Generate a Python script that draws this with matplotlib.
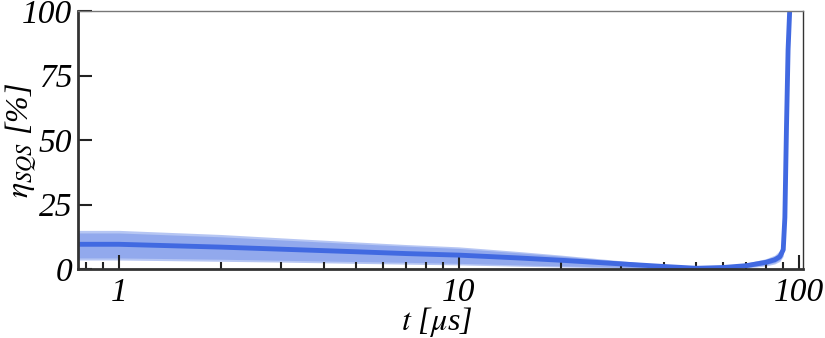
import numpy as np
import matplotlib
matplotlib.use("Agg")
import matplotlib.pyplot as plt
from matplotlib.ticker import LogLocator, FixedLocator, NullFormatter

# data (t in microseconds, eta in %)
t = [0.75, 1.0, 2.0, 3.0, 5.0, 7.0, 10.0, 15.0, 20.0, 30.0, 40.0, 50.0,
     60.0, 70.0, 80.0, 85.0, 88.0, 90.0, 91.0, 92.0, 93.0, 94.0]
eta_mean = [9.6, 9.6, 8.5, 7.7, 6.7, 6.0, 5.4, 4.3, 3.4, 2.0, 1.0, 0.3,
            0.6, 1.3, 2.6, 3.6, 4.8, 7.5, 20.0, 55.0, 85.0, 100.0]
hi_outer = [15.0, 15.0, 13.4, 12.1, 10.5, 9.5, 8.6, 6.8, 5.4, 3.2, 1.6, 0.6,
            1.2, 2.3, 4.0, 5.4, 7.2, 12.0, 40.0, 90.0, 100.0, 100.0]
lo_outer = [3.5, 3.5, 3.0, 2.7, 2.2, 1.9, 1.6, 1.1, 0.8, 0.4, 0.1, 0.0,
            0.1, 0.4, 1.2, 2.0, 3.0, 5.0, 12.0, 40.0, 70.0, 90.0]
hi_inner = [14.0, 14.0, 12.5, 11.3, 9.8, 8.9, 8.0, 6.3, 5.0, 3.0, 1.4, 0.5,
            1.0, 2.0, 3.6, 4.9, 6.5, 10.5, 30.0, 72.0, 97.0, 100.0]
lo_inner = [4.3, 4.3, 3.8, 3.4, 2.9, 2.6, 2.2, 1.6, 1.2, 0.7, 0.3, 0.1,
            0.3, 0.7, 1.7, 2.5, 3.6, 6.0, 14.0, 45.0, 75.0, 95.0]

col = "#4169E1"

plt.rcParams["font.family"] = ["Liberation Serif", "DejaVu Serif"]
plt.rcParams["font.style"] = "italic"
plt.rcParams["mathtext.fontset"] = "stix"

fig = plt.figure(figsize=(8.25, 3.38), dpi=100)
ax = fig.add_axes([0.0945, 0.204, 0.8785, 0.763])

ax.fill_between(t, lo_outer, hi_outer, color=col, alpha=0.38, lw=0)
ax.fill_between(t, lo_inner, hi_inner, color=col, alpha=0.3, lw=0)
ax.plot(t, eta_mean, color=col, lw=3.5)

ax.set_xscale("log")
ax.set_xlim(0.758, 102.7)
ax.set_ylim(0, 100)

ax.xaxis.set_major_locator(FixedLocator([1, 10, 100]))
ax.xaxis.set_minor_locator(LogLocator(base=10, subs=np.arange(2, 10)))
ax.xaxis.set_minor_formatter(NullFormatter())
ax.set_xticklabels(["1", "10", "100"])
ax.set_yticks([0, 25, 50, 75, 100])

ax.tick_params(which="both", direction="in", top=False, right=False,
               labelsize=24, width=1.5, color="#222222")
ax.tick_params(which="major", length=10)
ax.tick_params(which="minor", length=5)
ax.tick_params(axis="x", which="major", pad=6)
ax.tick_params(axis="y", which="major", pad=4)

for s in ["left", "bottom"]:
    ax.spines[s].set_linewidth(2)
    ax.spines[s].set_color("#333333")
ax.spines["top"].set_linewidth(1)
ax.spines["top"].set_color("#777777")
ax.spines["right"].set_linewidth(1)
ax.spines["right"].set_color("#333333")

ax.set_xlabel(r"$t$ [$\mu$s]", fontsize=23)
ax.set_ylabel(r"$\eta_{SQS}$ [%]", fontsize=23)
ax.xaxis.set_label_coords(0.4945, -0.205, transform=ax.transAxes)
ax.xaxis.label.set_va("center")
ax.yaxis.set_label_coords(-0.078, 0.5, transform=ax.transAxes)
ax.yaxis.label.set_va("center")

fig.savefig("out.png", dpi=100)
